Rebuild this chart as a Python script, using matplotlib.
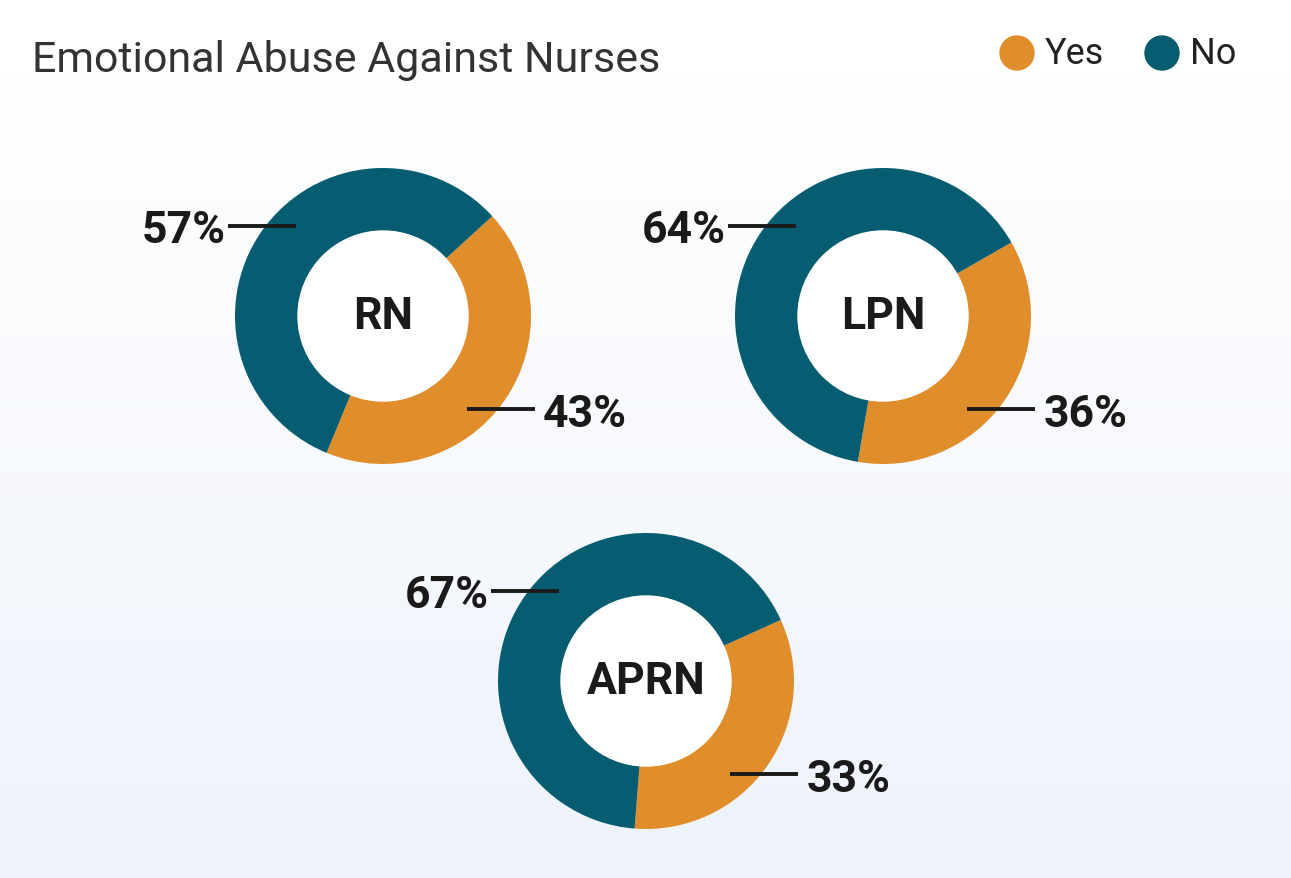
import numpy as np
import matplotlib.pyplot as plt
from matplotlib.patches import Circle

# data
roles = ['RN', 'LPN', 'APRN']
yes_pct = [43, 36, 33]
no_pct = [57, 64, 67]
series = ['Yes', 'No']

YES_COLOR = '#e08e2b'
NO_COLOR = '#065c70'
INK = '#1a1a1a'
W, H = 1291, 879

# donut layout in pixel space (y measured upward)
centers = [(383, 562), (883, 562), (646, 197)]
R_OUT, R_IN = 148, 85

font = ['Roboto', 'DejaVu Sans']

fig = plt.figure(figsize=(W / 100, H / 100), dpi=100)
ax = fig.add_axes([0, 0, 1, 1])

# soft vertical background gradient, white at the top
grad = np.linspace(0, 1, 256).reshape(-1, 1)
top = np.array([1.0, 1.0, 1.0])
bottom = np.array([0xee, 0xf3, 0xfb]) / 255
img = top + (bottom - top) * np.clip((grad - 0.08) / 0.92, 0, 1)[..., None]
ax.imshow(img, extent=[0, W, 0, H], aspect='auto', zorder=0,
          origin='upper')

for role, y, n, (cx, cy) in zip(roles, yes_pct, no_pct, centers):
    # yes slice centred at about -35 degrees, drawn clockwise
    start = -35 + y * 3.6 / 2
    ax.pie([y, n], colors=[YES_COLOR, NO_COLOR], startangle=start,
           counterclock=False, center=(cx, cy), radius=R_OUT,
           wedgeprops=dict(width=R_OUT - R_IN, linewidth=0),
           frame=True)
    ax.add_patch(Circle((cx, cy), R_IN, color='white', zorder=3))
    ax.text(cx, cy, role, ha='center', va='center', fontsize=32,
            fontweight='bold', family=font, color=INK, zorder=4)

    # leader lines and percent labels
    r_lab = 0.85 * R_OUT
    a_no = np.radians(134)
    a_yes = np.radians(-48)
    nx, ny = cx + r_lab * np.cos(a_no), cy + r_lab * np.sin(a_no)
    yx, yy = cx + r_lab * np.cos(a_yes), cy + r_lab * np.sin(a_yes)
    ax.plot([nx - 68, nx], [ny, ny], color=INK, lw=2.8,
            solid_capstyle='butt', zorder=5)
    ax.plot([yx, yx + 68], [yy, yy], color=INK, lw=2.8,
            solid_capstyle='butt', zorder=5)
    ax.text(nx - 70, ny, f'{n}%', ha='right', va='center_baseline',
            fontsize=32, fontweight='bold', family=font,
            color=INK, zorder=5)
    ax.text(yx + 76, yy, f'{y}%', ha='left', va='center_baseline',
            fontsize=32, fontweight='bold', family=font,
            color=INK, zorder=5)

ax.set_xlim(0, W)
ax.set_ylim(0, H)
ax.set_aspect('equal')
ax.axis('off')

# title
ax.text(32, H - 60, 'Emotional Abuse Against Nurses', ha='left',
        va='center', fontsize=31, family=font, color='#333333')

# legend
for label, color, x in zip(series, [YES_COLOR, NO_COLOR], [1017, 1162]):
    ax.add_patch(Circle((x, H - 54), 17, color=color, zorder=5))
    ax.text(x + 28, H - 54, label, ha='left', va='center', fontsize=26,
            family=font, color='#222222')

fig.savefig('out.png', dpi=100)
